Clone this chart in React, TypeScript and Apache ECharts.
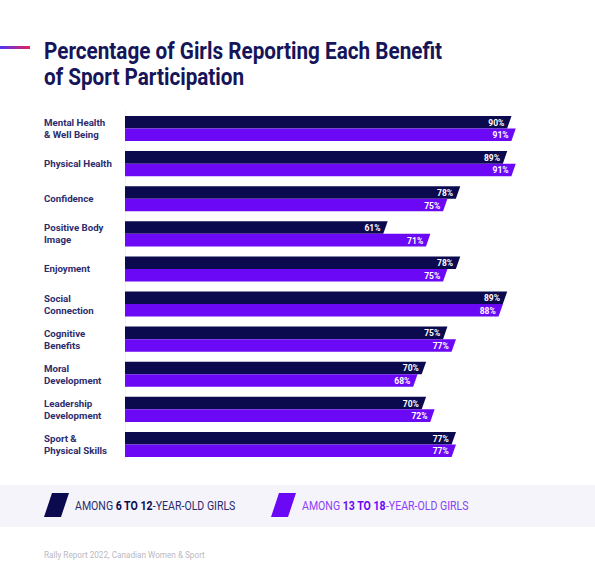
import { useEffect, useRef } from 'react'
import * as echarts from 'echarts'

const categories = [
  'Mental Health\n& Well Being',
  'Physical Health',
  'Confidence',
  'Positive Body\nImage',
  'Enjoyment',
  'Social\nConnection',
  'Cognitive\nBenefits',
  'Moral\nDevelopment',
  'Leadership\nDevelopment',
  'Sport &\nPhysical Skills',
]
const younger = [90, 89, 78, 61, 78, 89, 75, 70, 70, 77]
const older = [91, 91, 75, 71, 75, 88, 77, 68, 72, 77]

const DARK = '#0b0a4f'
const PURPLE = '#6b08f5'

// bar with a slanted right end, half of the category band each
const makeRender = (upper: boolean) => (params: any, api: any) => {
  const val = api.value(0)
  const idx = api.value(1)
  const band = api.size([0, 1])[1]
  const h = band * 0.357
  const start = api.coord([0, idx])
  const end = api.coord([val, idx])
  const y0 = upper ? start[1] - h : start[1]
  const y1 = y0 + h
  const s = 2.2
  return {
    type: 'group',
    children: [
      {
        type: 'polygon',
        shape: {
          points: [
            [start[0], y0],
            [end[0] + s, y0],
            [end[0] - s, y1],
            [start[0], y1],
          ],
        },
        style: { fill: upper ? DARK : PURPLE },
      },
      {
        type: 'text',
        x: end[0] - 5,
        y: (y0 + y1) / 2 + 0.5,
        style: {
          text: val + '%',
          fill: '#ffffff',
          font: 'bold 8.5px Roboto',
          align: 'right',
          verticalAlign: 'middle',
        },
      },
    ],
  }
}

export default function App() {
  const chartRef = useRef<HTMLDivElement>(null)

  useEffect(() => {
    document.body.style.margin = '0'
    if (!chartRef.current) return
    const chart = echarts.init(chartRef.current, undefined, { renderer: 'svg' })

    const option = {
      animation: false,
      backgroundColor: '#ffffff',
      grid: { left: 125, right: 43, top: 111, bottom: 118 },
      xAxis: { type: 'value', min: 0, max: 100, show: false },
      yAxis: {
        type: 'category',
        data: categories,
        inverse: true,
        offset: 11,
        axisLine: { show: true, lineStyle: { color: '#f1f1f6', width: 1 } },
        axisTick: { show: false },
        axisLabel: {
          align: 'left',
          margin: 70,
          color: '#2d2c6c',
          fontFamily: 'Roboto',
          fontWeight: 'bold',
          fontSize: 9.7,
          lineHeight: 12,
          padding: [4, 0, 0, 0],
        },
      },
      series: [
        {
          name: 'Among 6 to 12-year-old girls',
          type: 'custom',
          renderItem: makeRender(true),
          encode: { x: 0, y: 1 },
          data: younger.map((v, i) => [v, i]),
        },
        {
          name: 'Among 13 to 18-year-old girls',
          type: 'custom',
          renderItem: makeRender(false),
          encode: { x: 0, y: 1 },
          data: older.map((v, i) => [v, i]),
        },
      ],
      graphic: [
        {
          type: 'rect',
          shape: { x: 0, y: 46, width: 30, height: 3 },
          style: {
            fill: new echarts.graphic.LinearGradient(0, 0, 1, 0, [
              { offset: 0, color: '#4f35f2' },
              { offset: 1, color: '#e8205a' },
            ]),
          },
        },
        {
          type: 'text',
          x: 44,
          y: 51.5,
          scaleX: 0.9,
          style: {
            text: 'Percentage of Girls Reporting Each Benefit',
            font: 'bold 23px Roboto',
            fill: '#16155a',
            verticalAlign: 'middle',
          },
        },
        {
          type: 'text',
          x: 44,
          y: 77.5,
          scaleX: 0.9,
          style: {
            text: 'of Sport Participation',
            font: 'bold 23px Roboto',
            fill: '#16155a',
            verticalAlign: 'middle',
          },
        },
        {
          type: 'rect',
          shape: { x: 0, y: 485, width: 595, height: 42 },
          style: { fill: '#f4f4fa' },
        },
        {
          type: 'polygon',
          shape: { points: [[52, 493], [69, 493], [61, 517], [44, 517]] },
          style: { fill: DARK },
        },
        {
          type: 'text',
          x: 75,
          y: 506,
          scaleX: 0.845,
          style: {
            text: '{n|AMONG }{b|6 TO 12}{n|-YEAR-OLD GIRLS}',
            verticalAlign: 'middle',
            rich: {
              n: { font: '12.5px Roboto', fill: '#2b2a6e' },
              b: { font: 'bold 12.5px Roboto', fill: DARK },
            },
          },
        },
        {
          type: 'polygon',
          shape: { points: [[279, 493], [296, 493], [288, 517], [271, 517]] },
          style: { fill: PURPLE },
        },
        {
          type: 'text',
          x: 302,
          y: 506,
          scaleX: 0.845,
          style: {
            text: '{n|AMONG }{b|13 TO 18}{n|-YEAR-OLD GIRLS}',
            verticalAlign: 'middle',
            rich: {
              n: { font: '12.5px Roboto', fill: '#8a40f6' },
              b: { font: 'bold 12.5px Roboto', fill: PURPLE },
            },
          },
        },
        {
          type: 'text',
          x: 44,
          y: 555,
          scaleX: 0.91,
          style: {
            text: 'Rally Report 2022, Canadian Women & Sport',
            font: '9px Roboto',
            fill: '#b9b9c2',
            verticalAlign: 'middle',
          },
        },
      ],
    }

    chart.setOption(option)
    return () => {
      chart.dispose()
    }
  }, [])

  return <div ref={chartRef} style={{ width: 595, height: 580 }} />
}
